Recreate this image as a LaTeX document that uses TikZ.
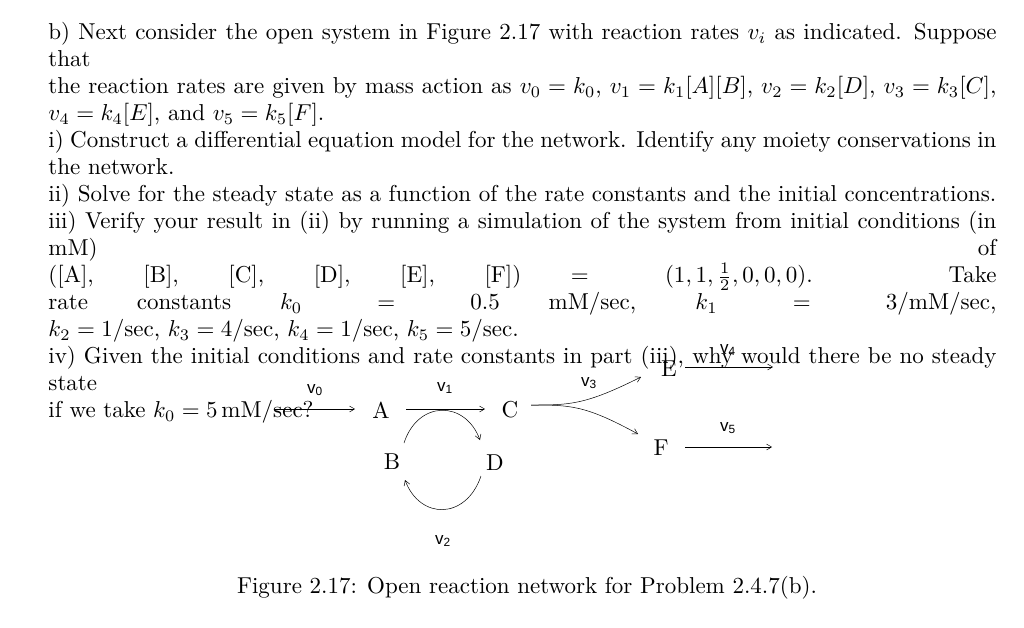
\documentclass[tikz,border=0pt]{standalone}
\usepackage{fontspec}
\usepackage{amsmath}
\usetikzlibrary{arrows.meta}
\newfontfamily\lab{Liberation Sans}
\begin{document}
\begin{tikzpicture}[x=1pt,y=-1pt,
  sp/.style={font=\fontsize{10}{11.74}\selectfont,inner sep=0pt,scale=2.3,transform shape},
  lb/.style={font=\lab\fontsize{17}{20}\selectfont,inner sep=0pt},
  ar/.style={-{Straight Barb[length=5pt,width=6pt]},line width=0.5pt}]
\useasboundingbox (0,0) rectangle (1024,627);
\node[sp,anchor=north west,text width=412.2pt,align=justify] (txt) at (48,22) {%
b) Next consider the open system in Figure 2.17 with reaction rates $v_i$ as indicated. Suppose that\linebreak
the reaction rates are given by mass action as $v_0=k_0$, $v_1=k_1[A][B]$, $v_2=k_2[D]$, $v_3=k_3[C]$,\linebreak
$v_4=k_4[E]$, and $v_5=k_5[F]$.\\
i) Construct a differential equation model for the network. Identify any moiety conservations in\linebreak
the network.\\
ii) Solve for the steady state as a function of the rate constants and the initial concentrations.\\
iii) Verify your result in (ii) by running a simulation of the system from initial conditions (in mM) of\linebreak
([A], [B], [C], [D], [E], [F]) $=(1,1,\frac12,0,0,0)$. Take rate constants $k_0=0.5$ mM/sec, $k_1=3$/mM/sec,\linebreak
$k_2=1$/sec, $k_3=4$/sec, $k_4=1$/sec, $k_5=5$/sec.\\
iv) Given the initial conditions and rate constants in part (iii), why would there be no steady state\linebreak
if we take $k_0=5\,$mM/sec?};
\node[sp] (A) at (381,410) {A};
\node[sp] (B) at (392,462) {B};
\node[sp] (C) at (510,410) {C};
\node[sp] (D) at (495,463) {D};
\node[sp] (E) at (669,369) {E};
\node[sp] (F) at (661,448) {F};
\coordinate (s0) at (275,409);
\coordinate (e4) at (773,367);
\coordinate (e5) at (772,447);
\draw[ar] (s0) -- (355,409);
\draw[ar] (406,409) -- (485,409);
\draw[ar] (404,443) .. controls (418,400) and (465,400) .. (480,440);
\draw[ar] (481,476) .. controls (466,520) and (420,520) .. (405,480);
\draw[ar] (531,405) .. controls (570,405) and (585,405) .. (641,377);
\draw[ar] (531,405) .. controls (570,405) and (585,405) .. (638,434);
\draw[ar] (685,367) -- (e4);
\draw[ar] (685,447) -- (e5);
\node[lb] (l0) at (315,390) {v\textsubscript{0}};
\node[lb] (l1) at (445,388) {v\textsubscript{1}};
\node[lb] (l2) at (443,541) {v\textsubscript{2}};
\node[lb] (l3) at (589,383) {v\textsubscript{3}};
\node[lb] (l4) at (728,350) {v\textsubscript{4}};
\node[lb] (l5) at (728,428) {v\textsubscript{5}};
\node[sp] (cap) at (527,588) {Figure 2.17: Open reaction network for Problem 2.4.7(b).};
\end{tikzpicture}
\end{document}
